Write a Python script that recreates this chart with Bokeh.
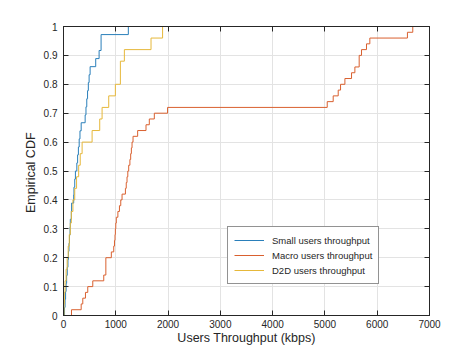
from bokeh.plotting import figure
from bokeh.models import LinearAxis, Range1d, FixedTicker, Legend, LegendItem, CustomJSTickFormatter
from bokeh.embed import file_html
from bokeh.resources import INLINE

# ---- data (step points: x where the ECDF jumps, level after the jump) ----
small_x = [20, 20, 30, 40, 50, 60, 72, 85, 95, 105, 115, 125, 130, 150, 155, 195, 200, 215, 228,
           255, 270, 285, 300, 315, 338, 414, 430, 445, 460, 475, 490, 509, 616, 681, 719, 1240]
small_y = [0, 0.028, 0.056, 0.083, 0.111, 0.139, 0.167, 0.194, 0.222, 0.25, 0.278, 0.306, 0.333,
           0.361, 0.389, 0.417, 0.444, 0.472, 0.5, 0.528, 0.556, 0.583, 0.611, 0.639, 0.667,
           0.694, 0.722, 0.75, 0.778, 0.806, 0.833, 0.861, 0.889, 0.917, 0.972, 1.0]

macro_x = [153, 153, 338, 369, 420, 464, 560, 770, 810, 915, 961, 975, 985, 992, 1000, 1010, 1040,
           1070, 1095, 1120, 1184, 1200, 1215, 1230, 1247, 1270, 1285, 1298, 1311, 1330, 1418,
           1578, 1641, 1737, 1990, 5044, 5158, 5254, 5299, 5382, 5509, 5573, 5655, 5700, 5795,
           5859, 6578, 6680]
macro_y = [0, 0.02, 0.04, 0.06, 0.08, 0.10, 0.12, 0.14, 0.20, 0.22, 0.24, 0.26, 0.28, 0.30, 0.32,
           0.34, 0.36, 0.38, 0.40, 0.42, 0.44, 0.46, 0.48, 0.50, 0.52, 0.54, 0.56, 0.58, 0.60,
           0.62, 0.64, 0.66, 0.68, 0.70, 0.72, 0.74, 0.76, 0.78, 0.80, 0.82, 0.84, 0.86, 0.90,
           0.92, 0.94, 0.96, 0.98, 1.0]

d2d_x = [10, 10, 15, 30, 50, 70, 90, 110, 130, 150, 180, 215, 250, 290, 320, 356, 547, 693, 738,
         865, 992, 1088, 1164, 1674, 1895]
d2d_y = [0, 0.04, 0.08, 0.12, 0.16, 0.20, 0.24, 0.28, 0.32, 0.36, 0.40, 0.44, 0.48, 0.52, 0.56,
         0.60, 0.64, 0.68, 0.72, 0.76, 0.80, 0.88, 0.92, 0.96, 1.0]

series_names = ["Small users throughput", "Macro users throughput", "D2D users throughput"]
series_colors = ["#2a7fba", "#d9602f", "#e6b83a"]

x_ticks = [0, 1000, 2000, 3000, 4000, 5000, 6000, 7000]
y_ticks = [0, 0.1, 0.2, 0.3, 0.4, 0.5, 0.6, 0.7, 0.8, 0.9, 1.0]
y_tick_labels = ["0", "0.1", "0.2", "0.3", "0.4", "0.5", "0.6", "0.7", "0.8", "0.9", "1"]
x_title = "Users Throughput (kbps)"
y_title = "Empirical  CDF"

FONT = "Liberation Sans"
AX = "#262626"

p = figure(width=466, height=347, output_backend="svg", toolbar_location=None,
           x_range=Range1d(0, 7000), y_range=Range1d(0, 1),
           min_border_left=63, min_border_right=37, min_border_top=26, min_border_bottom=31,
           x_axis_label=x_title, y_axis_label=y_title)
p.outline_line_color = AX
p.background_fill_color = "white"

for ax in (p.xaxis[0], p.yaxis[0]):
    ax.axis_line_color = AX
    ax.major_tick_line_color = AX
    ax.major_tick_in = 5
    ax.major_tick_out = 0
    ax.minor_tick_line_color = None
    ax.major_label_text_font = FONT
    ax.major_label_text_font_size = "10px"
    ax.major_label_text_color = AX
    ax.axis_label_text_font = FONT
    ax.axis_label_text_font_size = "12.5px"
    ax.axis_label_text_font_style = "normal"
    ax.axis_label_text_color = AX

p.xaxis[0].ticker = FixedTicker(ticks=x_ticks)
p.yaxis[0].ticker = FixedTicker(ticks=y_ticks)
p.yaxis[0].major_label_overrides = {t: l for t, l in zip(y_ticks, y_tick_labels)}
p.xaxis[0].major_label_standoff = 4
p.xaxis[0].axis_label_standoff = 0
p.yaxis[0].major_label_standoff = 6
p.yaxis[0].axis_label_standoff = 3

blank = CustomJSTickFormatter(code="return '';")
top = LinearAxis(ticker=FixedTicker(ticks=x_ticks), formatter=blank)
right = LinearAxis(ticker=FixedTicker(ticks=y_ticks), formatter=blank)
for ax in (top, right):
    ax.axis_line_color = AX
    ax.major_tick_line_color = AX
    ax.major_tick_in = 5
    ax.major_tick_out = 0
    ax.minor_tick_line_color = None
    ax.major_label_text_font_size = "1px"
    ax.major_label_standoff = 0
p.add_layout(top, "above")
p.add_layout(right, "right")

p.xgrid.ticker = FixedTicker(ticks=x_ticks)
p.ygrid.ticker = FixedTicker(ticks=y_ticks)
p.xgrid.grid_line_color = "#e3e3e3"
p.ygrid.grid_line_color = "#e3e3e3"

r1 = p.step(small_x, small_y, mode="after", line_color=series_colors[0], line_width=1)
r2 = p.step(macro_x, macro_y, mode="after", line_color=series_colors[1], line_width=1)
r3 = p.step(d2d_x, d2d_y, mode="after", line_color=series_colors[2], line_width=1)

legend = Legend(items=[LegendItem(label=series_names[0], renderers=[r1]),
                       LegendItem(label=series_names[1], renderers=[r2]),
                       LegendItem(label=series_names[2], renderers=[r3])],
                location=(164, 31))
legend.border_line_color = AX
legend.border_line_width = 1
legend.background_fill_alpha = 1
legend.label_text_font = FONT
legend.label_text_font_size = "9.5px"
legend.label_text_color = AX
legend.glyph_width = 30
legend.glyph_height = 14
legend.label_height = 14
legend.spacing = 1
legend.padding = 6
legend.margin = 0
legend.label_standoff = 8
p.add_layout(legend, "center")

open("out.html", "w").write(file_html(p, INLINE))
